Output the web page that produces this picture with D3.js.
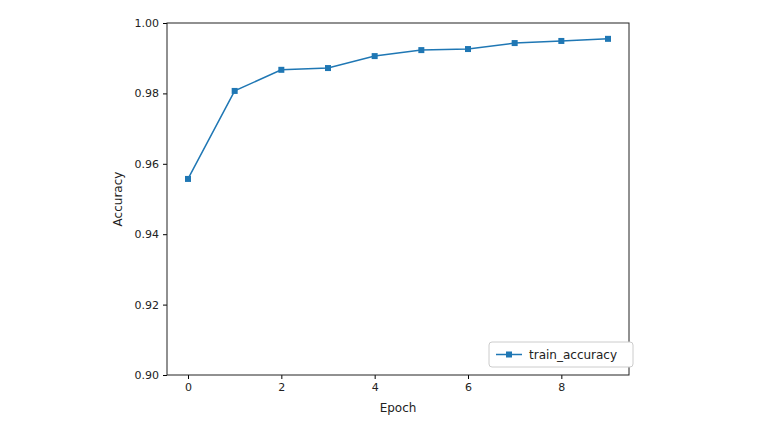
<!DOCTYPE html>
<html>
<head>
<meta charset="utf-8">
<script src="https://cdn.jsdelivr.net/npm/d3@7"></script>
<style>
  body { margin: 0; background: #fff; }
  text { font-family: "DejaVu Sans", sans-serif; fill: #222; }
</style>
</head>
<body>
<svg id="chart" width="768" height="431"></svg>
<script>
// data
var epochs = [0, 1, 2, 3, 4, 5, 6, 7, 8, 9];
var trainAccuracy = [0.9557, 0.9807, 0.9867, 0.9872, 0.9906, 0.9923, 0.9926, 0.9943, 0.9949, 0.9955];
var xTicks = [0, 2, 4, 6, 8];
var yTicks = [0.90, 0.92, 0.94, 0.96, 0.98, 1.00];

(function(){
var svg = d3.select("#chart");
var pLeft = 167, pRight = 629, pTop = 23, pBottom = 375;
var color = "#1f77b4";

var x = d3.scaleLinear().domain([-0.45, 9.45]).range([pLeft, pRight]);
var y = d3.scaleLinear().domain([0.90, 1.00]).range([pBottom, pTop]);

// axes
svg.append("g").attr("transform", "translate(0," + pBottom + ")")
  .call(d3.axisBottom(x).tickValues(xTicks).tickSize(4).tickPadding(4).tickFormat(d3.format("d")))
  .call(function(g){ g.select(".domain").remove(); g.selectAll("text").style("font-size","11px"); });
svg.append("g").attr("transform", "translate(" + pLeft + ",0)")
  .call(d3.axisLeft(y).tickValues(yTicks).tickSize(4).tickPadding(4).tickFormat(d3.format(".2f")))
  .call(function(g){ g.select(".domain").remove(); g.selectAll("text").style("font-size","11px"); });

svg.append("rect").attr("x", pLeft).attr("y", pTop).attr("width", pRight - pLeft).attr("height", pBottom - pTop)
  .attr("fill", "none").attr("stroke", "#222").attr("stroke-width", 1);

// labels
svg.append("text").attr("x", (pLeft + pRight) / 2).attr("y", 412).attr("text-anchor", "middle")
  .style("font-size", "12px").text("Epoch");
svg.append("text").attr("transform", "translate(122," + (pTop + pBottom) / 2 + ") rotate(-90)")
  .attr("text-anchor", "middle").style("font-size", "12px").text("Accuracy");

// line + markers
var pts = epochs.map(function(e, i){ return [e, trainAccuracy[i]]; });
svg.append("path").datum(pts)
  .attr("d", d3.line().x(function(d){ return x(d[0]); }).y(function(d){ return y(d[1]); }))
  .attr("fill", "none").attr("stroke", color).attr("stroke-width", 1.5);
svg.selectAll(".pt").data(pts).enter().append("rect")
  .attr("x", function(d){ return x(d[0]) - 3; }).attr("y", function(d){ return y(d[1]) - 3; })
  .attr("width", 6).attr("height", 6).attr("fill", color);

// legend
var lg = svg.append("g").attr("transform", "translate(489,342)");
lg.append("rect").attr("width", 144).attr("height", 25).attr("rx", 3)
  .attr("fill", "#fff").attr("stroke", "#ccc");
lg.append("line").attr("x1", 7).attr("x2", 33).attr("y1", 12.5).attr("y2", 12.5)
  .attr("stroke", color).attr("stroke-width", 1.5);
lg.append("rect").attr("x", 17).attr("y", 9.5).attr("width", 6).attr("height", 6).attr("fill", color);
lg.append("text").attr("x", 40).attr("y", 17).style("font-size", "12px").text("train_accuracy");
})();
</script>
</body>
</html>
